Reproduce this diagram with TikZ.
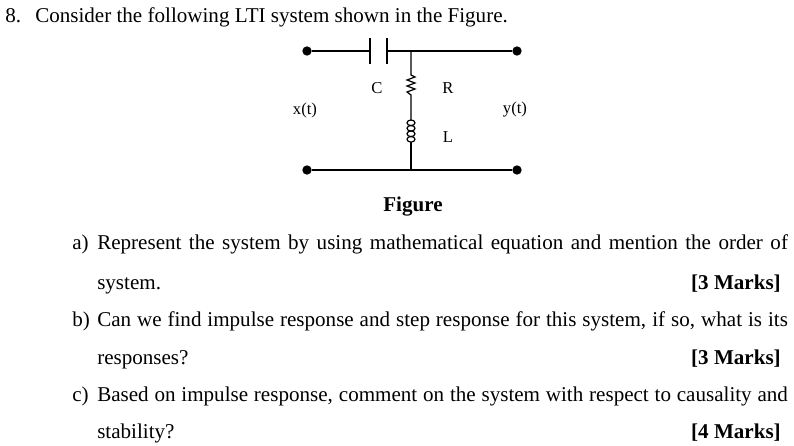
\documentclass[tikz,border=0pt]{standalone}
\usepackage{fontspec}
\setmainfont{Liberation Serif}
\newcommand{\jline}[1]{\hbox to 518pt{#1}}
\begin{document}
\begin{tikzpicture}[x=0.75pt,y=-0.75pt,
  txt/.style={anchor=base west,inner sep=0pt,font=\fontsize{15.8}{19}\selectfont},
  mk/.style={anchor=base east,inner sep=0pt,font=\fontsize{15.8}{19}\selectfont\bfseries},
  lbl/.style={inner sep=0pt,font=\fontsize{12.5}{15}\selectfont},
  wire/.style={line width=0.9pt},
  dot/.style={circle,fill,inner sep=0pt,minimum size=7pt}]
\useasboundingbox (0,0) rectangle (794,446);
\node[txt] (qn) at (5,22) {8.};
\node[txt] (q) at (35,22) {Consider the following LTI system shown in the Figure.};
% circuit
\node[dot] (tl) at (307,51) {};
\node[dot] (tr) at (517,51) {};
\node[dot] (bl) at (307,170) {};
\node[dot] (br) at (517,170) {};
\coordinate (c1) at (370,51);
\coordinate (c2) at (387,51);
\coordinate (j) at (411,51);
\coordinate (jb) at (411,170);
\draw[wire] (tl) -- (c1) (c2) -- (tr);
\draw[wire] (c1)+(0,-13) -- +(0,13);
\draw[wire] (c2)+(0,-13) -- +(0,13);
\draw[wire] (bl) -- (br);
\draw[wire] (j) -- (411,75) -- (415,77) -- (407,80) -- (415,83) -- (407,86) -- (415,89) -- (407,92) -- (411,95) -- (411,120);
\foreach \k in {0,1,2,3} {\draw[wire] (411,120+5.5*\k) arc[start angle=-90,end angle=270,x radius=4,y radius=2.8];}
\draw[wire] (411,142) -- (jb);
\node[lbl] (C) at (377,88) {C};
\node[lbl] (R) at (448,88) {R};
\node[lbl] (L) at (448,137) {L};
\node[lbl] (x) at (305,110) {x(t)};
\node[lbl] (y) at (515,110) {y(t)};
\node[inner sep=0pt,font=\fontsize{15.8}{19}\selectfont\bfseries] (fig) at (413,207) {Figure};
\node[txt] (al) at (72,249) {a)};
\node[txt] (a) at (97,249) {\jline{Represent the system by using mathematical equation and mention the order of}};
\node[txt] (a2) at (97,289) {system.};
\node[mk] (am) at (781,289) {[3 Marks]};
\node[txt] (bl2) at (72,326) {b)};
\node[txt] (b) at (97,326) {\jline{Can we find impulse response and step response for this system, if so, what is its}};
\node[txt] (b2) at (97,364) {responses?};
\node[mk] (bm) at (781,364) {[3 Marks]};
\node[txt] (cl) at (72,401) {c)};
\node[txt] (c) at (97,401) {\jline{Based on impulse response, comment on the system with respect to causality and}};
\node[txt] (c2) at (97,438) {stability?};
\node[mk] (cm) at (781,438) {[4 Marks]};
\end{tikzpicture}
\end{document}
